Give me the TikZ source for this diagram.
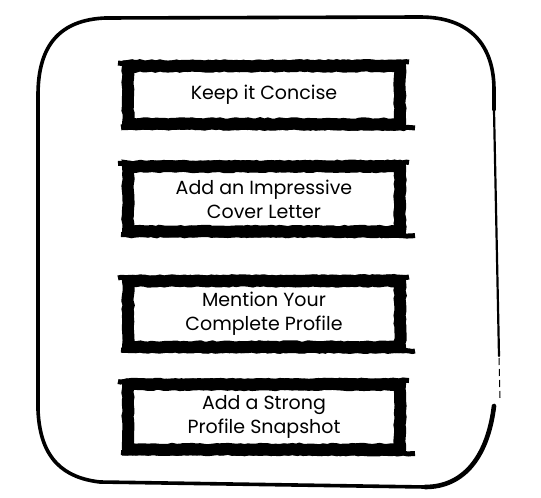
\documentclass[tikz,border=0pt]{standalone}
\usepackage{fontspec}
\setmainfont{Poppins}
\usetikzlibrary{
  arrows.meta,
  positioning,
  decorations.pathmorphing
}

\tikzset{
  brushbox/.style={
    draw,
    line width=12pt,
    decorate,
    decoration={random steps,segment length=4pt,amplitude=0.7pt},
    minimum width=272pt,
    align=center,
    font=\fontsize{19}{24}\selectfont
  },
  brushtail/.style={line width=5pt,decorate,
    decoration={random steps,segment length=3pt,amplitude=0.6pt}},
  outline/.style={line width=3.6pt,line cap=round},
  thinline/.style={line width=2.2pt,line cap=round}
}

\begin{document}
\pgfmathsetseed{7}
\begin{tikzpicture}[
    x=1pt,
    y=-1pt,
    >=Latex
    ]

    \useasboundingbox (0,0) rectangle (541,498);

    \draw[outline]
    (494,110) -- (494,90)
    .. controls (494,45) and (470,17) .. (420,17)
    -- (105,18)
    .. controls (60,20) and (38,45) .. (38,95)
    -- (38,410)
    .. controls (40,460) and (65,478) .. (100,482)
    -- (425,487);

    \draw[line width=4.6pt,line cap=round]
    (425,487)
    .. controls (465,487) and (488,455) .. (494,406);

    \draw[thinline] (494,110) -- (499,356);

    \draw[line width=1pt,dash pattern=on 7pt off 4pt] (499,358) -- (500,398);

    \node[brushbox,minimum height=58pt] (keep) at (264,95)
    {Keep it Concise};

    \node[brushbox,minimum height=65pt] (letter) at (264,199)
    {Add an Impressive\\Cover Letter};

    \node[brushbox,minimum height=66pt] (profile) at (264,314)
    {Mention Your\\Complete Profile};

    \node[brushbox,minimum height=65pt] (snapshot) at (264,417)
    {Add a Strong\\Profile Snapshot};

    \foreach \b in {keep,letter,profile,snapshot}{
      \draw[brushtail] ([shift={(-4,3)}]\b.north west) -- ([shift={(3,2)}]\b.north east);
      \draw[brushtail] ([shift={(-1,-3)}]\b.south west) -- ([shift={(9,-2)}]\b.south east);
    }

\end{tikzpicture}
\end{document}
